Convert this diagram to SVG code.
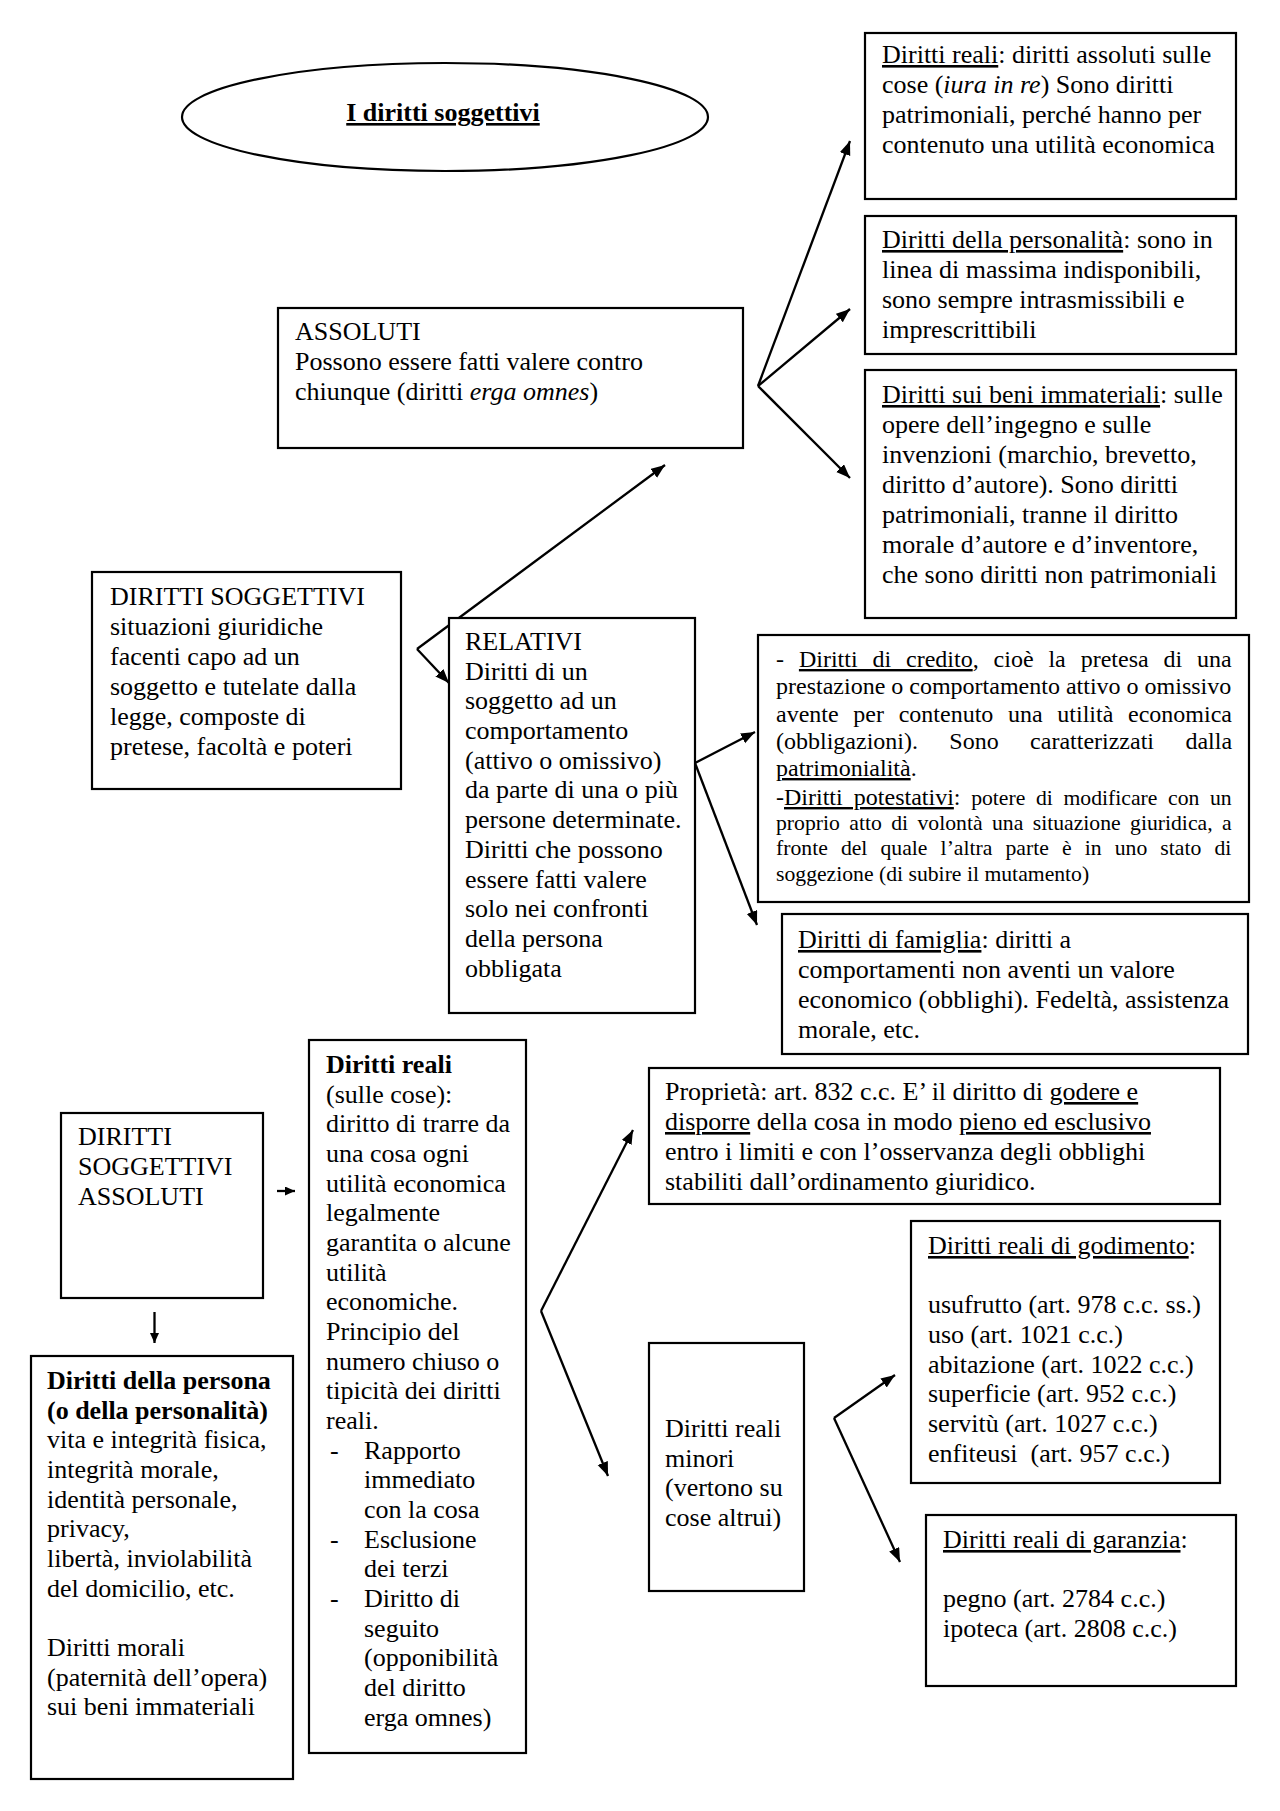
<svg xmlns="http://www.w3.org/2000/svg" width="1280" height="1811" viewBox="0 0 1280 1811">
<style>
text{font-family:"Liberation Serif","Times New Roman",serif;font-size:26px;fill:#000;white-space:pre}
.box{fill:#fff;stroke:#000;stroke-width:2.2}
.u{text-decoration:underline}
.i{font-style:italic}
.b{font-weight:bold}
.s24{font-size:24px}
.s22{font-size:21.7px}
.con line{stroke:#000;stroke-width:2.3;fill:none}
</style>
<defs>
<marker id="ah" markerUnits="userSpaceOnUse" markerWidth="16" markerHeight="12" refX="14" refY="5.5" orient="auto"><path d="M0,0 L14,5.5 L0,11 z" fill="#000"/></marker>
<marker id="ahs" markerUnits="userSpaceOnUse" markerWidth="11" markerHeight="10" refX="10" refY="4.5" orient="auto"><path d="M0,0 L10,4.5 L0,9 z" fill="#000"/></marker>
</defs>
<rect width="1280" height="1811" fill="#fff"/>

<g id="connectors" class="con">
<line x1="758" y1="386" x2="850" y2="141" marker-end="url(#ah)"/>
<line x1="758" y1="386" x2="850" y2="309" marker-end="url(#ah)"/>
<line x1="758" y1="386" x2="850" y2="478" marker-end="url(#ah)"/>
<line x1="417" y1="649" x2="665" y2="465" marker-end="url(#ah)"/>
<line x1="417" y1="649" x2="449" y2="683" marker-end="url(#ah)"/>
<line x1="695" y1="763" x2="755" y2="732" marker-end="url(#ah)"/>
<line x1="695" y1="763" x2="757" y2="925" marker-end="url(#ah)"/>
<line x1="277" y1="1191" x2="295" y2="1191" marker-end="url(#ahs)"/>
<line x1="154.5" y1="1312" x2="154.5" y2="1343" marker-end="url(#ahs)"/>
<line x1="541" y1="1311" x2="633" y2="1130" marker-end="url(#ah)"/>
<line x1="541" y1="1311" x2="608" y2="1476" marker-end="url(#ah)"/>
<line x1="834" y1="1418" x2="895" y2="1375" marker-end="url(#ah)"/>
<line x1="834" y1="1418" x2="900" y2="1562" marker-end="url(#ah)"/>
</g>

<g id="title">
<ellipse cx="445" cy="117" rx="263" ry="54" fill="#fff" stroke="#000" stroke-width="2.2"/>
<text x="443" y="121" text-anchor="middle" class="b u">I diritti soggettivi</text>
</g>

<g id="reali-top">
<rect class="box" x="865" y="33" width="371" height="166"/>
<text x="882" y="63"><tspan class="u">Diritti reali</tspan>: diritti assoluti sulle</text>
<text x="882" y="93">cose (<tspan class="i">iura in re</tspan>) Sono diritti</text>
<text x="882" y="123">patrimoniali, perché hanno per</text>
<text x="882" y="153">contenuto una utilità economica</text>
</g>

<g id="personalita">
<rect class="box" x="865" y="216" width="371" height="138"/>
<text x="882" y="248"><tspan class="u">Diritti della personalità</tspan>: sono in</text>
<text x="882" y="278">linea di massima indisponibili,</text>
<text x="882" y="308">sono sempre intrasmissibili e</text>
<text x="882" y="338">imprescrittibili</text>
</g>

<g id="immateriali">
<rect class="box" x="865" y="370" width="371" height="248"/>
<text x="882" y="403"><tspan class="u">Diritti sui beni immateriali</tspan>: sulle</text>
<text x="882" y="433">opere dell’ingegno e sulle</text>
<text x="882" y="463">invenzioni (marchio, brevetto,</text>
<text x="882" y="493">diritto d’autore). Sono diritti</text>
<text x="882" y="523">patrimoniali, tranne il diritto</text>
<text x="882" y="553">morale d’autore e d’inventore,</text>
<text x="882" y="583">che sono diritti non patrimoniali</text>
</g>

<g id="assoluti">
<rect class="box" x="278" y="308" width="465" height="140"/>
<text x="295" y="340">ASSOLUTI</text>
<text x="295" y="370">Possono essere fatti valere contro</text>
<text x="295" y="400">chiunque (diritti <tspan class="i">erga omnes</tspan>)</text>
</g>

<g id="diritti-soggettivi">
<rect class="box" x="92" y="572" width="309" height="217"/>
<text x="110" y="605">DIRITTI SOGGETTIVI</text>
<text x="110" y="635">situazioni giuridiche</text>
<text x="110" y="665">facenti capo ad un</text>
<text x="110" y="695">soggetto e tutelate dalla</text>
<text x="110" y="725">legge, composte di</text>
<text x="110" y="755">pretese, facoltà e poteri</text>
</g>

<g id="relativi">
<rect class="box" x="449" y="618" width="246" height="395"/>
<text x="465" y="650">RELATIVI</text>
<text x="465" y="680">Diritti di un</text>
<text x="465" y="709">soggetto ad un</text>
<text x="465" y="739">comportamento</text>
<text x="465" y="769">(attivo o omissivo)</text>
<text x="465" y="798">da parte di una o più</text>
<text x="465" y="828">persone determinate.</text>
<text x="465" y="858">Diritti che possono</text>
<text x="465" y="888">essere fatti valere</text>
<text x="465" y="917">solo nei confronti</text>
<text x="465" y="947">della persona</text>
<text x="465" y="977">obbligata</text>
</g>

<g id="credito">
<rect class="box" x="758" y="635" width="491" height="267"/>
<text x="776" y="667" class="s24" style="word-spacing:8.9px">- <tspan class="u">Diritti di credito</tspan>, cioè la pretesa di una</text>
<text x="776" y="694" class="s24">prestazione o comportamento attivo o omissivo</text>
<text x="776" y="722" class="s24" style="word-spacing:8.7px">avente per contenuto una utilità economica</text>
<text x="776" y="749" class="s24" style="word-spacing:25.4px">(obbligazioni). Sono caratterizzati dalla</text>
<text x="776" y="776" class="s24"><tspan class="u">patrimonialità</tspan>.</text>
<text x="776" y="805" class="s24" style="word-spacing:5.2px">-<tspan class="u">Diritti potestativi</tspan>:<tspan class="s22"> potere di modificare con un</tspan></text>
<text x="776" y="830" class="s22" style="word-spacing:4px">proprio atto di volontà una situazione giuridica, a</text>
<text x="776" y="855" class="s22" style="word-spacing:7.7px">fronte del quale l’altra parte è in uno stato di</text>
<text x="776" y="881" class="s22">soggezione (di subire il mutamento)</text>
</g>

<g id="famiglia">
<rect class="box" x="782" y="914" width="466" height="140"/>
<text x="798" y="948"><tspan class="u">Diritti di famiglia</tspan>: diritti a</text>
<text x="798" y="978">comportamenti non aventi un valore</text>
<text x="798" y="1008">economico (obblighi). Fedeltà, assistenza</text>
<text x="798" y="1038">morale, etc.</text>
</g>

<g id="dsa">
<rect class="box" x="61" y="1113" width="202" height="185"/>
<text x="78" y="1145">DIRITTI</text>
<text x="78" y="1175">SOGGETTIVI</text>
<text x="78" y="1205">ASSOLUTI</text>
</g>

<g id="diritti-reali">
<rect class="box" x="309" y="1040" width="217" height="713"/>
<text x="326" y="1073" class="b">Diritti reali</text>
<text x="326" y="1103">(sulle cose):</text>
<text x="326" y="1132">diritto di trarre da</text>
<text x="326" y="1162">una cosa ogni</text>
<text x="326" y="1192">utilità economica</text>
<text x="326" y="1221">legalmente</text>
<text x="326" y="1251">garantita o alcune</text>
<text x="326" y="1281">utilità</text>
<text x="326" y="1310">economiche.</text>
<text x="326" y="1340">Principio del</text>
<text x="326" y="1370">numero chiuso o</text>
<text x="326" y="1399">tipicità dei diritti</text>
<text x="326" y="1429">reali.</text>
<text x="330" y="1459">-</text><text x="364" y="1459">Rapporto</text>
<text x="364" y="1488">immediato</text>
<text x="364" y="1518">con la cosa</text>
<text x="330" y="1548">-</text><text x="364" y="1548">Esclusione</text>
<text x="364" y="1577">dei terzi</text>
<text x="330" y="1607">-</text><text x="364" y="1607">Diritto di</text>
<text x="364" y="1637">seguito</text>
<text x="364" y="1666">(opponibilità</text>
<text x="364" y="1696">del diritto</text>
<text x="364" y="1726">erga omnes)</text>
</g>

<g id="persona">
<rect class="box" x="31" y="1356" width="262" height="423"/>
<text x="47" y="1389" class="b">Diritti della persona</text>
<text x="47" y="1419" class="b">(o della personalità)</text>
<text x="47" y="1448">vita e integrità fisica,</text>
<text x="47" y="1478">integrità morale,</text>
<text x="47" y="1508">identità personale,</text>
<text x="47" y="1537">privacy,</text>
<text x="47" y="1567">libertà, inviolabilità</text>
<text x="47" y="1597">del domicilio, etc.</text>
<text x="47" y="1656">Diritti morali</text>
<text x="47" y="1686">(paternità dell’opera)</text>
<text x="47" y="1715">sui beni immateriali</text>
</g>

<g id="proprieta">
<rect class="box" x="649" y="1068" width="571" height="136"/>
<text x="665" y="1100">Proprietà: art. 832 c.c. E’ il diritto di <tspan class="u">godere e</tspan></text>
<text x="665" y="1130"><tspan class="u">disporre</tspan> della cosa in modo <tspan class="u">pieno ed esclusivo</tspan></text>
<text x="665" y="1160">entro i limiti e con l’osservanza degli obblighi</text>
<text x="665" y="1190">stabiliti dall’ordinamento giuridico.</text>
</g>

<g id="minori">
<rect class="box" x="649" y="1343" width="155" height="248"/>
<text x="665" y="1437">Diritti reali</text>
<text x="665" y="1467">minori</text>
<text x="665" y="1496">(vertono su</text>
<text x="665" y="1526">cose altrui)</text>
</g>

<g id="godimento">
<rect class="box" x="911" y="1221" width="309" height="262"/>
<text x="928" y="1254"><tspan class="u">Diritti reali di godimento</tspan>:</text>
<text x="928" y="1313">usufrutto (art. 978 c.c. ss.)</text>
<text x="928" y="1343">uso (art. 1021 c.c.)</text>
<text x="928" y="1373">abitazione (art. 1022 c.c.)</text>
<text x="928" y="1402">superficie (art. 952 c.c.)</text>
<text x="928" y="1432">servitù (art. 1027 c.c.)</text>
<text x="928" y="1462">enfiteusi  (art. 957 c.c.)</text>
</g>

<g id="garanzia">
<rect class="box" x="926" y="1515" width="310" height="171"/>
<text x="943" y="1548"><tspan class="u">Diritti reali di garanzia</tspan>:</text>
<text x="943" y="1607">pegno (art. 2784 c.c.)</text>
<text x="943" y="1637">ipoteca (art. 2808 c.c.)</text>
</g>
</svg>
